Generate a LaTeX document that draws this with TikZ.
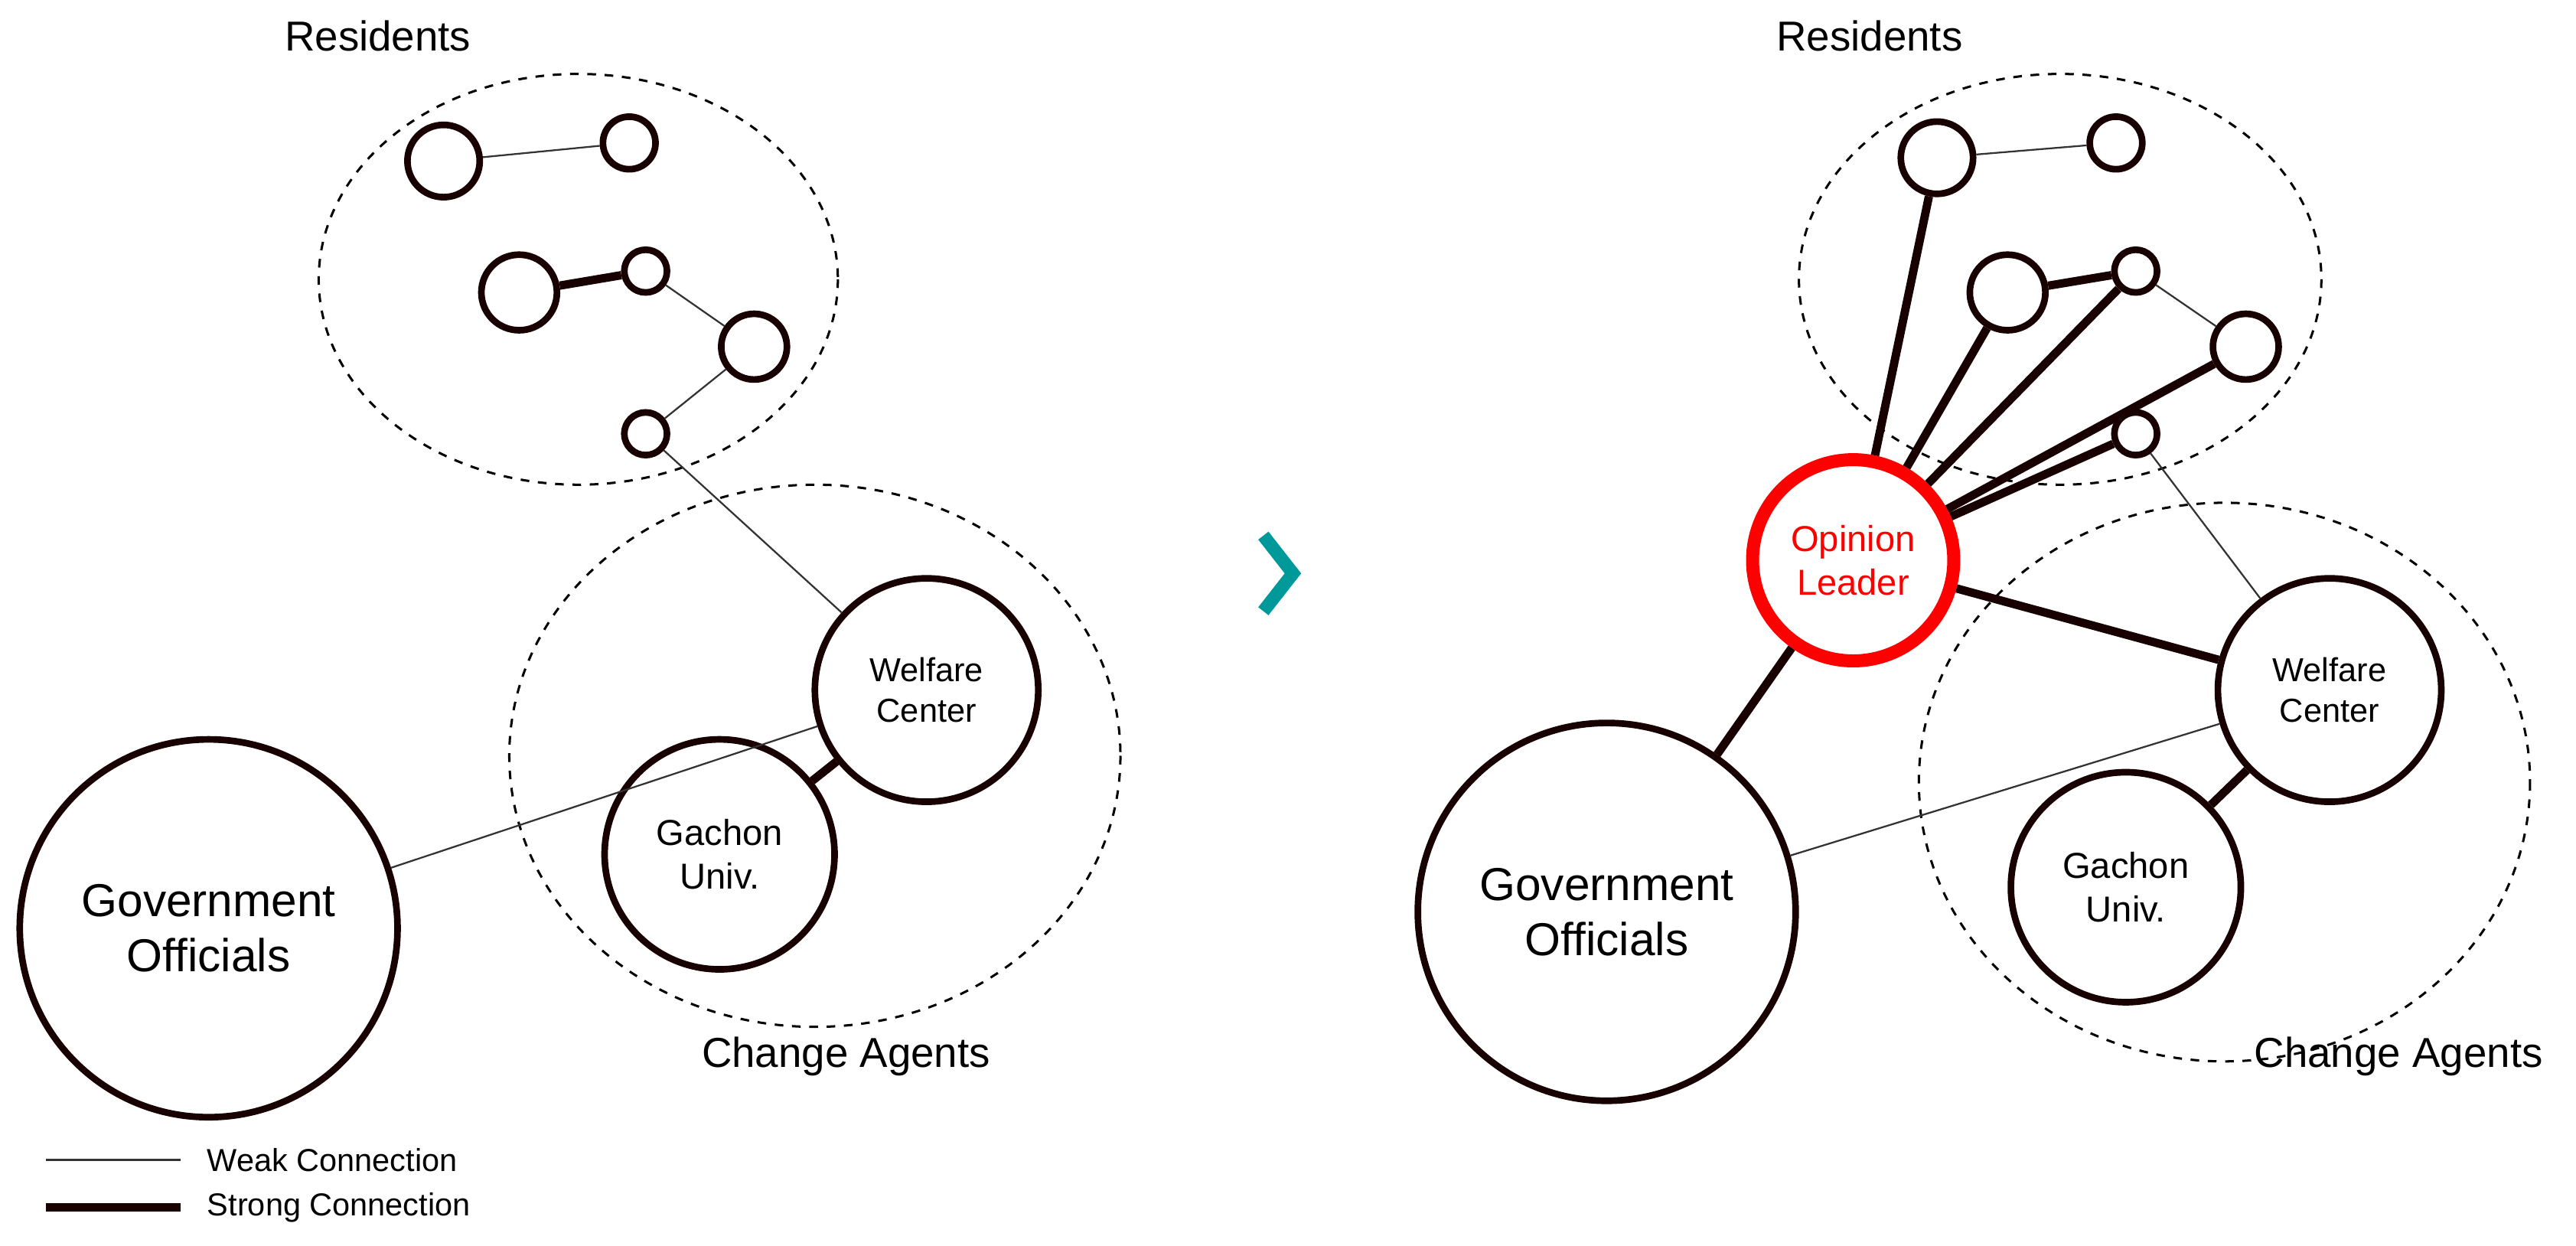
\documentclass[tikz,border=0pt]{standalone}
\usepackage{fontspec}
\setmainfont{Liberation Sans}
\begin{document}
\begin{tikzpicture}[x=0.02cm,y=-0.02cm,
 nd/.style={circle,draw=black!90!red,line width=2.3pt,inner sep=0pt,align=center},
 weak/.style={line width=0.6pt,black!80},
 strong/.style={line width=2.9pt,black!90!red},
 grp/.style={dashed,line width=0.8pt},
 lbl/.style={font=\fontsize{14.5}{16}\selectfont}]
\useasboundingbox (0,0) rectangle (1568,758);
% ---- left
\draw[grp] (352,170) ellipse [x radius=158,y radius=125];
\draw[grp] (496,460) ellipse [x radius=186,y radius=165];
\node[lbl] (rl) at (230,22) {Residents};
\node[lbl] (cl) at (515,643) {Change Agents};
\foreach \n/\x/\y/\r in {a1/270/98/44,a2/383/87/32,a3/316/178/46,a4/393/165/26,a5/459/211/40,a6/393/264/26}
  \node[nd,minimum size=\r*0.02cm] (\n) at (\x,\y) {};
\node[nd,minimum size=2.72cm,font=\fontsize{11.5}{14}\selectfont] (w) at (564,420) {Welfare\\Center};
\node[nd,minimum size=2.8cm,font=\fontsize{12.5}{15}\selectfont] (g) at (438,520) {Gachon\\Univ.};
\node[nd,minimum size=4.6cm,font=\fontsize{16}{19}\selectfont] (gov) at (127,565) {Government\\Officials};
\draw[weak] (a1)--(a2); \draw[strong] (a3)--(a4); \draw[weak] (a4)--(a5);
\draw[weak] (a5)--(a6); \draw[weak] (a6)--(w);
\draw[strong] (w)--(g); \draw[weak] (gov)--(w);
% legend
\coordinate (l1) at (28,706); \coordinate (l2) at (110,706);
\coordinate (l3) at (28,735); \coordinate (l4) at (110,735);
\draw[weak] (l1)--(l2); \draw[strong] (l3)--(l4);
\node[anchor=west,font=\fontsize{11}{12}\selectfont] (lw) at (120,706) {Weak Connection};
\node[anchor=west,font=\fontsize{11}{12}\selectfont] (ls) at (120,735) {Strong Connection};
% chevron
\draw[line width=4.5pt,color=teal!80!cyan] (769,326)--(787,349)--(769,372);
% ---- right
\draw[grp] (1254,170) ellipse [x radius=159,y radius=125];
\draw[grp] (1354,476) ellipse [x radius=186,y radius=170];
\node[lbl] (rr) at (1138,22) {Residents};
\node[lbl] (cr) at (1460,643) {Change Agents};
\foreach \n/\x/\y/\r in {b1/1179/96/44,b2/1288/87/32,b3/1222/178/46,b4/1300/165/26,b5/1367/211/40,b6/1300/264/26}
  \node[nd,minimum size=\r*0.02cm] (\n) at (\x,\y) {};
\node[nd,minimum size=2.72cm,font=\fontsize{11.5}{14}\selectfont] (w2) at (1418,420) {Welfare\\Center};
\node[nd,minimum size=2.8cm,font=\fontsize{12.5}{15}\selectfont] (g2) at (1294,540) {Gachon\\Univ.};
\node[nd,minimum size=4.6cm,font=\fontsize{16}{19}\selectfont] (gov2) at (978,555) {Government\\Officials};
\node[circle,draw=red,line width=4.5pt,fill=white,minimum size=2.45cm,inner sep=0pt,align=center,text=red,font=\fontsize{12.5}{15}\selectfont] (ol) at (1128,341) {Opinion\\Leader};
\draw[weak] (b1)--(b2); \draw[strong] (b3)--(b4); \draw[weak] (b4)--(b5);
\draw[weak] (b6)--(w2);
\foreach \n in {b1,b3,b4,b5,b6} \draw[strong] (ol)--(\n);
\draw[strong] (ol)--(w2); \draw[strong] (ol)--(gov2);
\draw[strong] (w2)--(g2); \draw[weak] (gov2)--(w2);
\end{tikzpicture}
\end{document}
